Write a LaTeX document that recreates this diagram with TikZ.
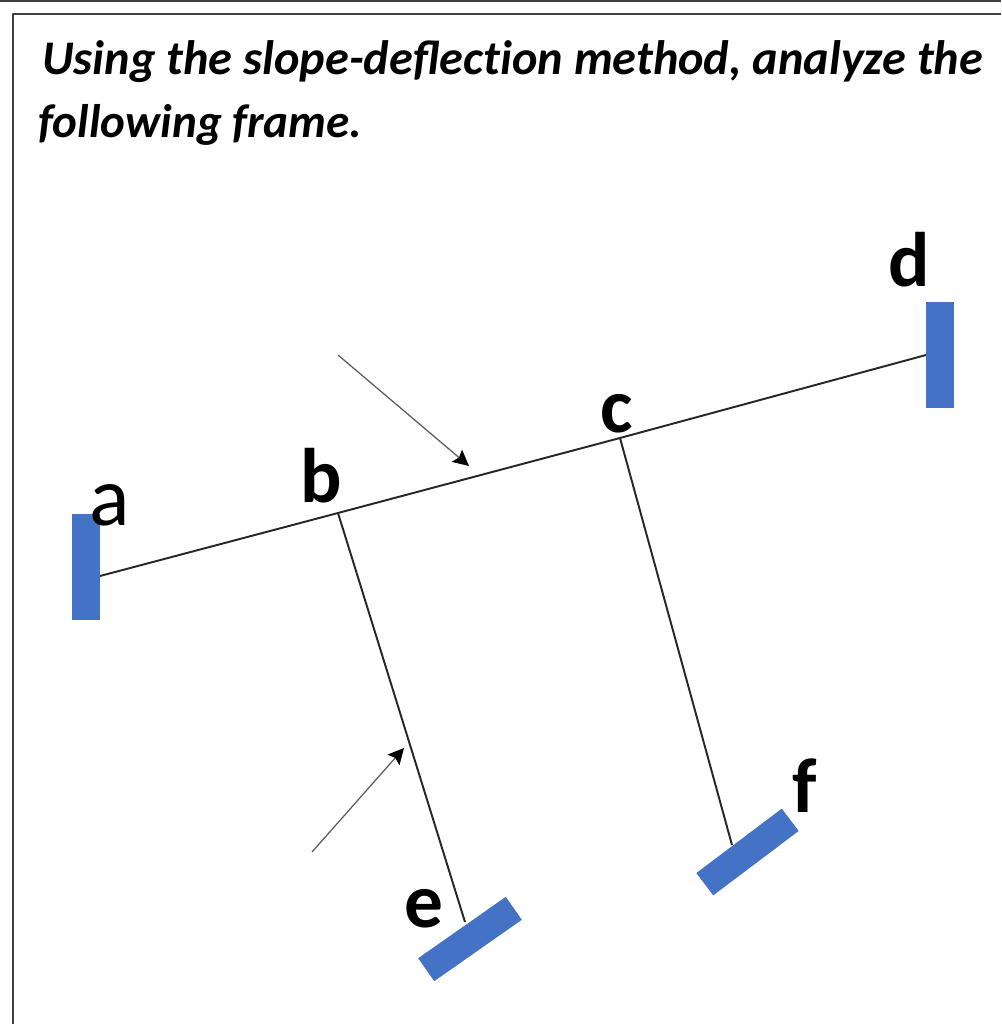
\documentclass[tikz,border=0pt]{standalone}
\usepackage{fontspec}
\setmainfont{Carlito}
\usepackage{tikz}
\usetikzlibrary{arrows.meta}
\tikzset{l/.style={font=\fontsize{27.5}{27.5}\selectfont\bfseries\itshape,inner sep=0pt}}
\tikzset{k/.style={font=\fontsize{26.8}{26.8}\selectfont\bfseries\itshape,inner sep=0pt}}
\tikzset{m/.style={font=\fontsize{44}{44}\selectfont\bfseries,inner sep=0pt}}
\tikzset{fix/.style={fill=supblue,inner sep=0pt,minimum width=2.14cm,minimum height=.56cm}}
\tikzset{member/.style={line width=1.1pt,black!85}}
\tikzset{load/.style={line width=.7pt,black!65,-{Stealth[length=9pt,width=9pt,inset=1.5pt,black]}}}
\definecolor{supblue}{HTML}{4472C4}

\begin{document}
\begin{tikzpicture}[x=.02cm,y=.02cm,line join=round]
\useasboundingbox (0,0) rectangle (1001,-1024);
% border
\draw[line width=1.5pt,black!75] (0,-1)--(1001,-1);
\draw[line width=1.5pt,black!75] (1001,-14)--(13,-14)--(13,-1024);
% question
\node[l,anchor=base west] (line1) at (42,-75) {Using the slope-deflect\kern0pt ion method, analyze the};
\node[k,anchor=base west] (line2) at (38,-137) {following frame.};
% joints
\coordinate (ja) at (100,-576);
\coordinate (jb) at (338,-513);
\coordinate (jc) at (620,-438);
\coordinate (jd) at (926,-355);
\coordinate (je) at (465,-922);
\coordinate (jf) at (732,-845);
\coordinate (p1) at (338,-355);
\coordinate (p2) at (469,-466);
\coordinate (q1) at (312,-852);
\coordinate (q2) at (404,-748);
% members
\draw[member] (ja)--(jb)--(jc)--(jd);
\draw[member] (jb)--(je);
\draw[member] (jc)--(jf);
% supports
\node[fix,rotate=90] (supa) at (86,-567) {};
\node[fix,rotate=90] (supd) at (940,-355) {};
\node[fix,rotate=35] (supe) at (470,-939) {};
\node[fix,rotate=37] (supf) at (747.5,-852) {};
% loads
\draw[load] (p1)--(p2);
\draw[load] (q1)--(q2);
% labels
\node[m,font=\fontsize{48}{48}\selectfont] (la) at (110,-505) {a};
\node[m] (lb) at (321,-476) {b};
\node[m] (lc) at (617,-414) {c};
\node[m] (ld) at (909,-260) {d};
\node[m] (le) at (424,-909) {e};
\node[m] (lf) at (805,-786) {f};
\end{tikzpicture}
\end{document}
